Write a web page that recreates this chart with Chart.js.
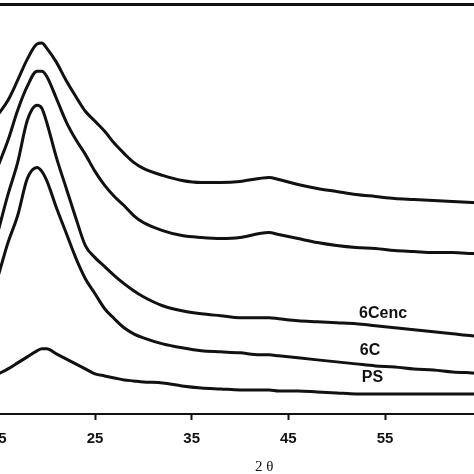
<!DOCTYPE html>
<html>
<head>
<meta charset="utf-8">
<script src="https://cdn.jsdelivr.net/npm/chart.js@4/dist/chart.umd.min.js"></script>
<style>
  html, body { margin: 0; padding: 0; background: #fff; overflow: hidden; width: 474px; height: 474px; }
  #wrap { position: absolute; left: -20px; top: 0; width: 570px; height: 474px; }
</style>
</head>
<body>
<div id="wrap"><canvas id="c"></canvas></div>
<script>
// 2θ sample positions (degrees)
const theta = [15, 16, 17, 18, 19, 19.5, 20, 21, 22, 23, 24, 25, 26, 27, 28, 29, 30, 32, 34, 36, 38, 40, 42, 43, 44, 46, 48, 50, 52, 54, 56, 58, 60, 62, 64, 66];

// Intensities (arbitrary units, offset-stacked as in the figure)
const seriesTop = [299, 313, 333, 354, 369, 370, 365, 351, 333, 317, 302, 292, 282, 270, 260, 251, 245, 238, 233, 231, 231, 232, 235, 236, 234, 229, 225, 222, 219, 217, 215, 214, 213, 212, 211, 210];
const seriesSecond = [248, 273, 303, 327, 342, 342, 337, 315, 292, 274, 259, 242, 228, 217, 208, 198, 191, 183, 178, 176, 175, 176, 180, 181, 179, 175, 171, 168, 166, 165, 163, 162, 161, 161, 160, 159];
const series6Cenc = [183, 219, 251, 293, 308, 305, 291, 256, 226, 196, 168, 156, 147, 138, 130, 123, 117, 108, 103, 100, 98, 96, 96, 96, 95, 93, 92, 91, 90, 88, 86, 84, 82, 80, 78, 77];
const series6C = [138, 171, 198, 235, 246, 242, 233, 206, 181, 156, 135, 120, 105, 95, 86, 80, 76, 70, 66, 63, 62, 61, 59, 59, 58, 56, 54, 52, 50, 48, 47, 45, 44, 42, 41, 40];
const seriesPS = [40, 45, 51, 57, 63, 65, 65, 60, 55, 50, 45, 40, 38, 36, 34, 33, 32, 31, 28, 26, 25, 24, 24, 24, 23, 23, 22, 21, 20, 20, 20, 20, 20, 20, 20, 20];

// x-axis tick labels
const xTicks = [15, 25, 35, 45, 55];

// curve labels and their anchor (in data units)
const curveLabels = ['6Cenc', '6C', 'PS'];
const labelTheta = [54.8, 53.45, 53.7];
const labelY = [100, 63, 36];

const allSeries = [seriesTop, seriesSecond, series6Cenc, series6C, seriesPS];

const datasets = allSeries.map(s => ({
  data: theta.map((t, i) => ({ x: t, y: s[i] })),
  borderColor: '#111',
  borderWidth: 3,
  pointRadius: 0,
  fill: false,
  cubicInterpolationMode: 'monotone'
}));

const labelPlugin = {
  id: 'curveLabels',
  afterDatasetsDraw(chart) {
    const ctx = chart.ctx;
    const xs = chart.scales.x, ys = chart.scales.y;
    ctx.save();
    ctx.fillStyle = '#111';
    ctx.font = 'bold 16px "Liberation Sans", Arial, sans-serif';
    ctx.textAlign = 'center';
    ctx.textBaseline = 'middle';
    curveLabels.forEach((lab, i) => {
      ctx.fillText(lab, xs.getPixelForValue(labelTheta[i]), ys.getPixelForValue(labelY[i]));
    });
    ctx.restore();
  }
};

new Chart(document.getElementById('c'), {
  type: 'line',
  data: { datasets },
  plugins: [labelPlugin],
  options: {
    responsive: true,
    maintainAspectRatio: false,
    animation: false,
    layout: { padding: { left: 17, right: 20, top: 4, bottom: -2 } },
    plugins: { legend: { display: false }, tooltip: { enabled: false } },
    scales: {
      x: {
        type: 'linear',
        position: 'bottom',
        min: 15,
        max: 70,
        afterBuildTicks: (axis) => { axis.ticks = xTicks.map(v => ({ value: v })); },
        grid: { display: true, drawOnChartArea: false, drawTicks: true, tickLength: 6, tickWidth: 2, tickColor: '#111' },
        border: { display: true, color: '#111', width: 2 },
        ticks: {
          color: '#111',
          padding: 10,
          maxRotation: 0,
          autoSkip: false,
          font: { family: '"Liberation Sans", Arial, sans-serif', size: 15, weight: 'bold' }
        },
        title: {
          display: true,
          text: '2 θ',
          color: '#111',
          padding: { top: 0, bottom: 0 },
          font: { family: '"Liberation Serif", "Times New Roman", serif', size: 15 }
        }
      },
      x2: {
        type: 'linear',
        position: 'top',
        min: 15,
        max: 70,
        grid: { display: false, drawTicks: false },
        border: { display: true, color: '#111', width: 3 },
        ticks: { display: false }
      },
      y: {
        display: false,
        min: 0,
        max: 409
      }
    }
  }
});
</script>
</body>
</html>
